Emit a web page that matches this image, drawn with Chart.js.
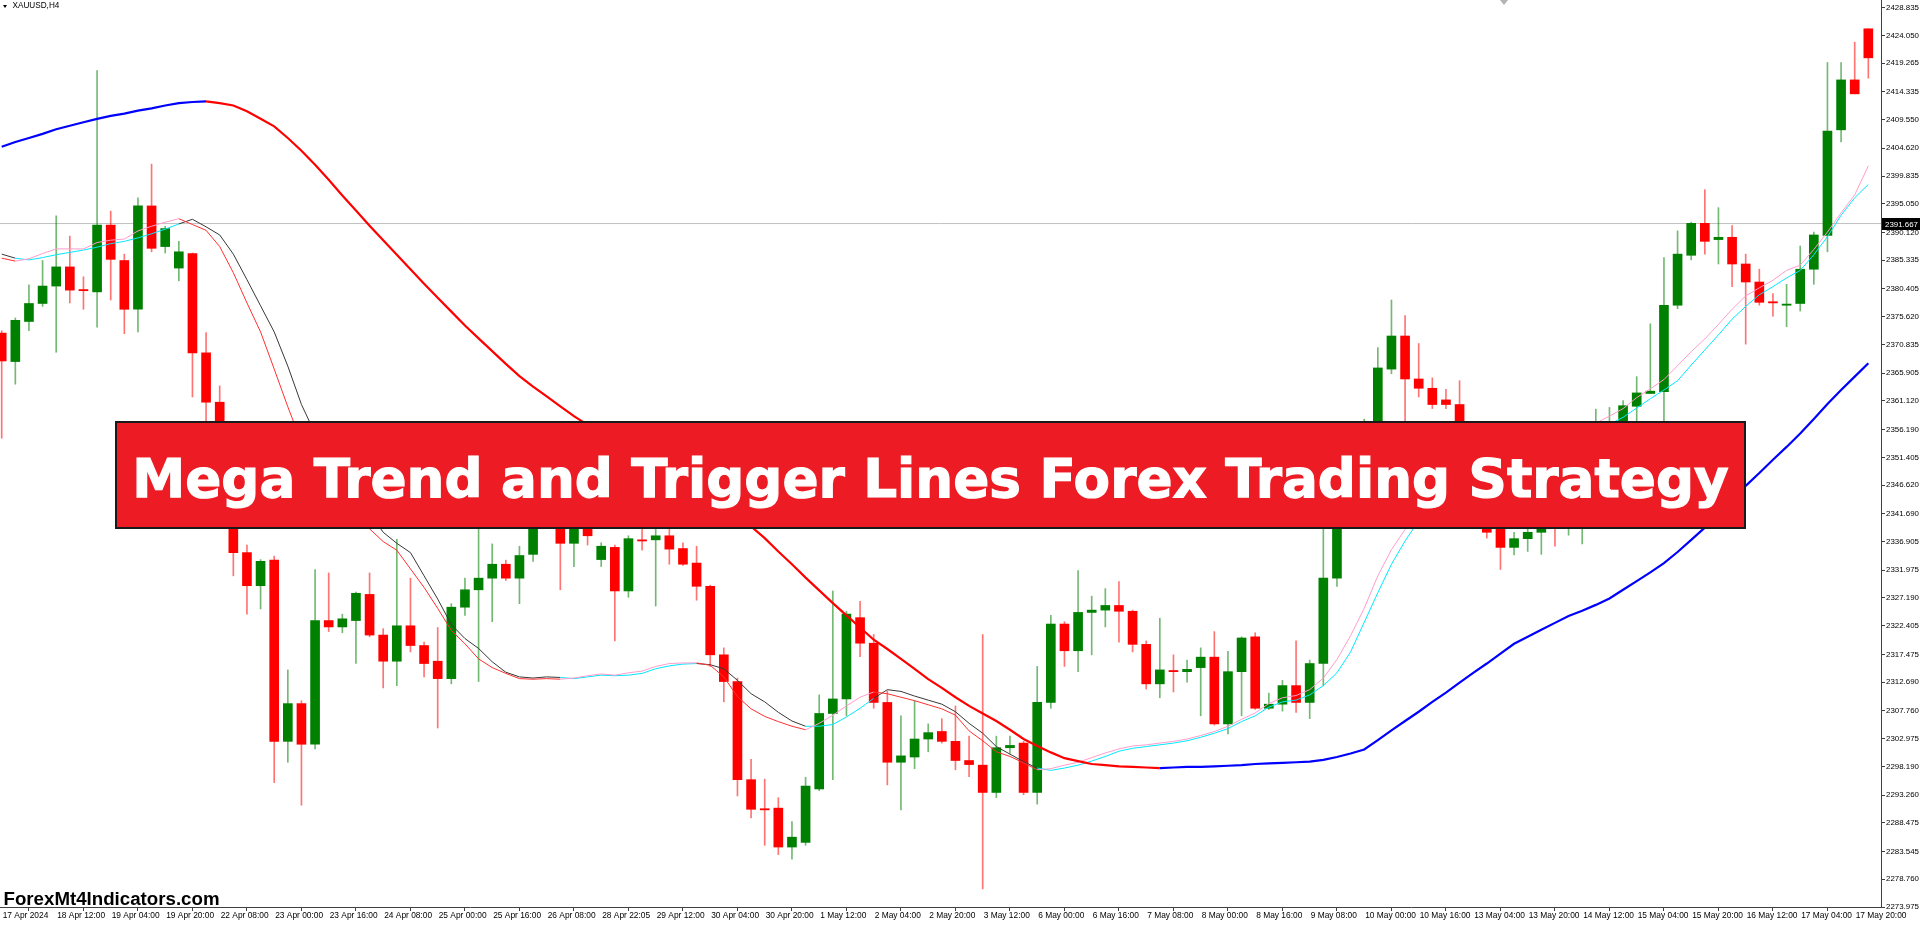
<!DOCTYPE html>
<html>
<head>
<meta charset="utf-8">
<title>XAUUSD H4</title>
<script src="https://cdn.jsdelivr.net/npm/chart.js@4.4.1/dist/chart.umd.min.js"></script>
<style>
    html, body { margin: 0; padding: 0; background: #fff; }
    #marco { position: relative; width: 1920px; height: 925px; overflow: hidden; }
    #grafico { position: absolute; left: 0; top: 0; }
    .simbolo { position: absolute; left: 12.5px; top: 2px; font: 8.2px/8.2px "Liberation Sans", sans-serif; color: #000; }
    .flecha { position: absolute; left: 3px; top: 5px; width: 0; height: 0;
        border-left: 2.5px solid transparent; border-right: 2.5px solid transparent; border-top: 3px solid #000; }
    .marca-gris { position: absolute; left: 1500px; top: 0; width: 0; height: 0;
        border-left: 4px solid transparent; border-right: 4px solid transparent; border-top: 5px solid #b4b4b4; }
    .banner { position: absolute; left: 115px; top: 421px; width: 1631px; height: 108px; box-sizing: border-box;
        background: #ed1c24; border: 2px solid #1a1a1a; }
    .banner div { position: absolute; left: 0; right: 0; top: 30px; text-align: center; color: #fff;
        font: bold 53.2px/53.2px "DejaVu Sans", sans-serif; white-space: nowrap;
        -webkit-text-stroke: 1.2px #fff; }
    .sitio { position: absolute; left: 3.5px; top: 890px; color: #000;
        font: bold 18.7px/18.7px "Liberation Sans", sans-serif; }
</style>
</head>
<body>
<div id="marco">
    <canvas id="grafico" width="1920" height="925"></canvas>
    <div class="flecha"></div>
    <div class="simbolo">XAUUSD,H4</div>
    <div class="marca-gris"></div>
    <div class="banner"><div>Mega Trend and Trigger Lines Forex Trading Strategy</div></div>
    <div class="sitio">ForexMt4Indicators.com</div>
</div>
<script>
// velas H4 de XAUUSD (una por barra)
var apertura = [
    2372.8, 2367.9, 2374.8, 2377.9, 2380.9, 2384.2, 2380.3, 2379.9, 2391.4, 2385.3,
    2376.9, 2394.7, 2387.7, 2384.0, 2386.5, 2369.4, 2360.9, 2352.0, 2335.0, 2329.3,
    2333.7, 2302.5, 2309.0, 2302.0, 2323.3, 2322.2, 2323.3, 2327.8, 2320.8, 2316.3,
    2322.4, 2319.0, 2316.3, 2313.3, 2325.6, 2328.6, 2330.6, 2333.0, 2330.6, 2334.7,
    2341.0, 2345.0, 2336.6, 2341.0, 2333.8, 2335.9, 2328.4, 2337.2, 2337.2, 2337.9,
    2335.7, 2333.2, 2329.2, 2317.4, 2312.8, 2295.9, 2290.9, 2291.0, 2284.3, 2285.1,
    2294.3, 2307.3, 2309.8, 2323.8, 2319.4, 2309.2, 2298.9, 2299.8, 2302.9, 2304.2,
    2302.5, 2299.2, 2298.4, 2293.7, 2301.4, 2302.2, 2293.7, 2309.2, 2322.7, 2318.1,
    2324.7, 2325.1, 2325.9, 2324.9, 2319.2, 2312.4, 2314.7, 2314.5, 2315.2, 2317.0,
    2305.5, 2314.5, 2320.5, 2308.2, 2308.9, 2312.1, 2309.2, 2315.9, 2330.6, 2345.0,
    2350.0, 2356.0, 2366.6, 2372.3, 2364.9, 2363.3, 2361.3, 2360.5, 2352.0, 2346.0,
    2341.0, 2335.9, 2337.4, 2338.5, 2341.0, 2339.5, 2342.0, 2347.0, 2354.0, 2357.0,
    2360.2, 2362.4, 2362.7, 2377.6, 2386.2, 2391.7, 2388.9, 2389.3, 2384.7, 2381.6,
    2378.2, 2377.6, 2377.9, 2383.8, 2389.6, 2407.8, 2416.4, 2425.2
];
var maximo = [
    2373.2, 2375.4, 2381.1, 2385.3, 2393.0, 2389.5, 2382.5, 2418.0, 2393.8, 2386.4,
    2396.1, 2401.9, 2391.2, 2388.6, 2386.6, 2372.9, 2363.7, 2354.0, 2336.3, 2333.8,
    2334.4, 2314.8, 2309.5, 2332.1, 2331.5, 2324.4, 2328.2, 2331.5, 2321.9, 2337.3,
    2330.6, 2319.6, 2322.1, 2326.2, 2330.6, 2345.0, 2336.5, 2333.7, 2336.1, 2343.0,
    2348.0, 2347.0, 2345.0, 2343.0, 2336.7, 2336.3, 2337.9, 2339.1, 2340.0, 2340.0,
    2336.7, 2336.1, 2329.4, 2318.6, 2313.4, 2299.4, 2296.0, 2292.8, 2288.7, 2296.3,
    2310.5, 2328.4, 2324.9, 2326.6, 2320.9, 2311.2, 2306.9, 2309.5, 2305.5, 2306.4,
    2308.6, 2303.4, 2320.9, 2303.4, 2303.4, 2302.5, 2315.4, 2324.2, 2323.1, 2331.9,
    2327.5, 2328.8, 2330.0, 2325.1, 2319.8, 2323.7, 2317.4, 2316.5, 2318.6, 2321.4,
    2318.0, 2320.5, 2321.2, 2310.8, 2313.0, 2319.8, 2316.5, 2342.0, 2347.0, 2352.0,
    2358.0, 2370.3, 2378.5, 2375.8, 2371.0, 2365.1, 2363.1, 2364.6, 2353.0, 2347.0,
    2342.0, 2338.5, 2339.1, 2342.0, 2343.0, 2344.0, 2349.0, 2359.7, 2360.0, 2361.2,
    2365.3, 2374.4, 2385.8, 2390.4, 2391.9, 2397.5, 2394.4, 2391.3, 2386.4, 2383.8,
    2379.6, 2381.2, 2387.8, 2390.2, 2419.4, 2419.4, 2422.9, 2425.2
];
var minimo = [
    2354.7, 2364.0, 2373.2, 2377.4, 2369.5, 2378.0, 2376.9, 2373.8, 2378.5, 2372.7,
    2373.0, 2386.8, 2386.6, 2381.8, 2361.8, 2356.0, 2349.0, 2331.0, 2324.4, 2325.3,
    2295.4, 2298.9, 2291.5, 2301.2, 2321.4, 2321.2, 2315.9, 2320.5, 2311.7, 2312.1,
    2317.9, 2313.6, 2304.8, 2312.4, 2324.2, 2312.8, 2323.1, 2330.2, 2326.2, 2333.5,
    2339.5, 2328.6, 2332.6, 2336.3, 2332.6, 2319.8, 2327.3, 2335.4, 2325.8, 2333.0,
    2332.8, 2326.8, 2315.4, 2309.3, 2293.1, 2289.3, 2284.6, 2283.0, 2282.2, 2284.6,
    2294.0, 2295.9, 2306.9, 2317.1, 2308.2, 2295.0, 2290.7, 2297.8, 2300.7, 2302.2,
    2297.6, 2296.4, 2277.1, 2292.8, 2300.4, 2293.3, 2291.7, 2308.2, 2315.4, 2314.5,
    2317.4, 2322.2, 2319.6, 2317.9, 2311.5, 2310.0, 2311.0, 2312.7, 2306.9, 2305.3,
    2303.8, 2306.9, 2308.0, 2308.0, 2307.7, 2307.5, 2306.4, 2312.1, 2329.2, 2343.0,
    2348.0, 2354.0, 2365.8, 2356.0, 2361.8, 2359.8, 2359.8, 2350.0, 2344.0, 2337.5,
    2332.1, 2334.6, 2335.2, 2334.7, 2336.1, 2338.0, 2336.5, 2345.0, 2352.0, 2355.0,
    2357.6, 2362.4, 2356.0, 2377.0, 2385.4, 2386.4, 2384.7, 2380.8, 2370.9, 2377.6,
    2375.7, 2373.9, 2376.6, 2381.2, 2386.8, 2405.7, 2414.0, 2416.7
];
var cierre = [
    2368.0, 2375.0, 2377.9, 2380.9, 2384.2, 2380.2, 2380.1, 2391.4, 2385.5, 2376.9,
    2394.7, 2387.4, 2390.8, 2386.8, 2369.4, 2360.9, 2352.0, 2335.0, 2329.3, 2333.5,
    2302.5, 2309.0, 2302.0, 2323.3, 2322.2, 2323.6, 2328.0, 2320.8, 2316.3, 2322.4,
    2319.0, 2315.9, 2313.3, 2325.6, 2328.6, 2330.6, 2333.0, 2330.6, 2334.5, 2341.0,
    2346.0, 2336.6, 2343.0, 2337.9, 2336.1, 2328.4, 2337.4, 2337.0, 2337.9, 2335.6,
    2333.0, 2329.2, 2317.4, 2312.8, 2295.9, 2290.8, 2290.7, 2284.3, 2286.0, 2294.8,
    2307.3, 2309.8, 2324.4, 2319.4, 2309.2, 2298.9, 2300.0, 2302.9, 2304.0, 2302.5,
    2299.2, 2298.5, 2293.7, 2301.4, 2301.8, 2293.7, 2309.2, 2322.7, 2318.1, 2324.7,
    2325.1, 2325.9, 2324.9, 2319.2, 2312.4, 2314.8, 2314.5, 2314.9, 2317.0, 2305.5,
    2314.5, 2320.3, 2308.2, 2308.9, 2312.1, 2309.2, 2315.9, 2330.6, 2345.0, 2350.0,
    2356.0, 2366.8, 2372.3, 2364.9, 2363.3, 2360.5, 2360.5, 2352.0, 2346.0, 2338.5,
    2335.9, 2337.4, 2338.5, 2340.0, 2339.5, 2342.0, 2347.0, 2354.0, 2357.0, 2360.3,
    2362.5, 2362.8, 2377.6, 2386.4, 2391.7, 2388.6, 2389.3, 2384.7, 2381.6, 2378.1,
    2378.0, 2377.8, 2383.8, 2389.7, 2407.6, 2416.4, 2414.0, 2420.2
];

// linea Mega Trend (gruesa, azul al subir y roja al bajar)
var megaTrend = [
    2404.9, 2405.7, 2406.4, 2407.1, 2407.9, 2408.5, 2409.1, 2409.7, 2410.2, 2410.6,
    2411.1, 2411.5, 2412.0, 2412.4, 2412.6, 2412.7, 2412.4, 2412.0, 2411.0, 2409.7,
    2408.4, 2406.4, 2404.2, 2401.8, 2399.2, 2396.5, 2393.9, 2391.3, 2388.8, 2386.3,
    2383.8, 2381.3, 2378.9, 2376.5, 2374.1, 2371.9, 2369.7, 2367.5, 2365.4, 2363.6,
    2361.9, 2360.2, 2358.5, 2357.0, 2355.5, 2354.1, 2352.6, 2351.1, 2349.7, 2348.2,
    2346.7, 2345.3, 2343.8, 2342.4, 2340.9, 2339.5, 2337.5, 2335.2, 2333.0, 2330.7,
    2328.5, 2326.3, 2324.2, 2322.1, 2320.0, 2318.4, 2316.7, 2315.0, 2313.2, 2311.7,
    2310.1, 2308.6, 2307.3, 2306.0, 2304.5, 2302.9, 2301.7, 2300.6, 2299.6, 2299.1,
    2298.6, 2298.4, 2298.2, 2298.1, 2298.0, 2297.9, 2298.0, 2298.1, 2298.1, 2298.2,
    2298.3, 2298.4, 2298.6, 2298.7, 2298.8, 2298.9, 2299.0, 2299.3, 2299.8, 2300.4,
    2301.1, 2302.7, 2304.4, 2306.0, 2307.6, 2309.3, 2310.9, 2312.6, 2314.3, 2315.9,
    2317.6, 2319.3, 2320.5, 2321.7, 2322.9, 2324.1, 2325.0, 2326.0, 2327.1, 2328.6,
    2330.1, 2331.6, 2333.2, 2335.1, 2337.2, 2339.3, 2341.7, 2344.1, 2346.5, 2348.7,
    2351.0, 2353.2, 2355.5, 2358.0, 2360.6, 2363.0, 2365.3, 2367.6
];

// Trigger Lines: rapida (rosa / roja) y lenta (cian / negra)
var lineaRapida = [
    2385.7, 2385.2, 2385.6, 2386.5, 2387.3, 2387.3, 2387.3, 2388.4, 2388.8, 2389.0,
    2390.4, 2391.2, 2391.9, 2392.5, 2391.5, 2390.5, 2387.7, 2383.2, 2378.0, 2373.0,
    2366.6, 2360.1, 2354.0, 2349.5, 2346.0, 2343.0, 2340.8, 2339.1, 2336.9, 2335.4,
    2332.2, 2329.0, 2325.4, 2321.6, 2319.3, 2316.7, 2315.2, 2314.2, 2313.3, 2313.2,
    2313.3, 2313.2, 2313.4, 2313.8, 2314.1, 2313.9, 2314.3, 2314.6, 2315.4, 2315.9,
    2316.0, 2316.0, 2315.6, 2313.6, 2310.2, 2308.1, 2306.8, 2305.9, 2305.1, 2304.5,
    2305.6, 2307.0, 2308.6, 2310.1, 2311.0, 2310.7, 2310.1, 2309.5, 2308.8, 2308.1,
    2307.0, 2304.3, 2302.6, 2300.7, 2299.9, 2298.8, 2297.6, 2297.8, 2298.4, 2298.9,
    2299.7, 2300.5, 2301.2, 2301.7, 2301.9, 2302.2, 2302.5, 2302.9, 2303.5, 2304.2,
    2305.1, 2306.3, 2307.4, 2309.0, 2310.0, 2310.4, 2311.4, 2313.4, 2316.6, 2320.7,
    2325.4, 2331.0, 2335.5, 2339.0, 2342.0, 2344.5, 2346.5, 2348.0, 2348.5, 2348.0,
    2347.5, 2347.5, 2348.0, 2349.0, 2350.5, 2352.5, 2355.0, 2357.3, 2358.5, 2359.8,
    2361.7, 2363.2, 2364.8, 2367.2, 2369.6, 2371.8, 2374.3, 2376.9, 2379.2, 2380.6,
    2381.9, 2383.6, 2384.5, 2387.2, 2390.2, 2393.5, 2396.6, 2401.6
];
var lineaLenta = [
    2386.4, 2385.7, 2385.4, 2385.8, 2386.3, 2386.7, 2387.1, 2387.6, 2388.2, 2388.6,
    2389.2, 2389.9, 2390.7, 2391.6, 2392.4, 2391.1, 2389.7, 2386.4, 2382.0, 2377.5,
    2373.0, 2367.1, 2360.5, 2355.5, 2351.5, 2348.0, 2344.8, 2341.8, 2338.5, 2336.6,
    2335.0, 2331.0, 2327.0, 2322.6, 2320.2, 2318.5, 2316.2, 2314.4, 2313.6, 2313.4,
    2313.6, 2313.5, 2313.3, 2313.6, 2313.9, 2313.8, 2313.9, 2314.2, 2315.0, 2315.5,
    2315.8, 2315.9, 2315.7, 2315.0, 2313.0, 2310.7, 2309.3, 2307.5, 2306.0, 2305.1,
    2305.1, 2305.4, 2306.7, 2308.2, 2309.9, 2311.4, 2311.1, 2310.3, 2309.6, 2308.9,
    2307.6, 2305.6, 2303.9, 2301.6, 2300.3, 2299.0, 2297.9, 2297.5, 2297.9, 2298.4,
    2299.1, 2299.9, 2300.8, 2301.3, 2301.6, 2301.9, 2302.2, 2302.6, 2303.2, 2303.9,
    2304.7, 2305.9, 2306.9, 2308.4, 2309.3, 2309.6, 2310.5, 2312.1, 2314.3, 2317.9,
    2323.0, 2328.1, 2333.0, 2337.0, 2340.5, 2343.0, 2345.0, 2346.5, 2347.3, 2347.3,
    2347.0, 2347.0, 2347.3, 2348.3, 2349.6, 2351.5, 2354.0, 2356.0, 2357.1, 2358.3,
    2359.9, 2361.5, 2363.0, 2364.6, 2367.3, 2369.9, 2372.5, 2375.2, 2377.4, 2379.4,
    2380.8, 2382.3, 2383.6, 2386.3, 2389.4, 2393.1, 2396.1, 2398.4
];

var precioActual = 2391.667;

// etiquetas del eje de tiempo, una cada 4 barras
var barrasEtiqueta = [0, 4, 8, 12, 16, 20, 24, 28, 32, 36, 40, 44, 48, 52, 56, 60, 64, 68,
    72, 76, 80, 84, 88, 92, 96, 100, 104, 108, 112, 116, 120, 124, 128, 132, 136];
var etiquetasX = ['17 Apr 2024', '18 Apr 12:00', '19 Apr 04:00', '19 Apr 20:00', '22 Apr 08:00',
    '23 Apr 00:00', '23 Apr 16:00', '24 Apr 08:00', '25 Apr 00:00', '25 Apr 16:00', '26 Apr 08:00',
    '28 Apr 22:05', '29 Apr 12:00', '30 Apr 04:00', '30 Apr 20:00', '1 May 12:00', '2 May 04:00',
    '2 May 20:00', '3 May 12:00', '6 May 00:00', '6 May 16:00', '7 May 08:00', '8 May 00:00',
    '8 May 16:00', '9 May 08:00', '10 May 00:00', '10 May 16:00', '13 May 04:00', '13 May 20:00',
    '14 May 12:00', '15 May 04:00', '15 May 20:00', '16 May 12:00', '17 May 04:00', '17 May 20:00'];

var ticksY = [2428.835, 2424.050, 2419.265, 2414.335, 2409.550, 2404.620, 2399.835, 2395.050,
    2390.120, 2385.335, 2380.405, 2375.620, 2370.835, 2365.905, 2361.120, 2356.190, 2351.405,
    2346.620, 2341.690, 2336.905, 2331.975, 2327.190, 2322.405, 2317.475, 2312.690, 2307.760,
    2302.975, 2298.190, 2293.260, 2288.475, 2283.545, 2278.760, 2273.975];

var verde = '#008000', rojo = '#ff0000';
var colorCuerpo = cierre.map(function (c, i) { return c >= apertura[i] ? verde : rojo; });
var colorMecha = cierre.map(function (c, i) {
    return c >= apertura[i] ? 'rgba(0,128,0,0.55)' : 'rgba(255,0,0,0.55)';
});

var mechas = maximo.map(function (h, i) { return { x: i, y: [minimo[i], h] }; });
var cuerpos = apertura.map(function (o, i) { return { x: i, y: [o, cierre[i]] }; });
var puntos = function (serie) { return serie.map(function (v, i) { return { x: i, y: v }; }); };

function subeTrigger(i) { return lineaRapida[i] > lineaLenta[i]; }

// sin margenes extra para las etiquetas de los extremos
function sinRelleno(s) {
    s.paddingTop = 0;
    s.paddingBottom = 0;
    s.paddingLeft = 0;
    s.paddingRight = 0;
}

var cajaPrecio = {
    id: 'cajaPrecio',
    afterDraw: function (chart) {
        var ctx = chart.ctx;
        var y = chart.scales.y.getPixelForValue(precioActual);
        var x = chart.chartArea.right + 1;
        ctx.save();
        ctx.fillStyle = '#000';
        ctx.fillRect(x, Math.round(y) - 6, 1920 - x, 12);
        ctx.fillStyle = '#fff';
        ctx.font = '7.9px "Liberation Sans"';
        ctx.textBaseline = 'middle';
        ctx.fillText(precioActual.toFixed(3), x + 3, Math.round(y) + 0.5);
        ctx.restore();
    }
};

var ctx = document.getElementById('grafico').getContext('2d');
var myChart = new Chart(ctx, {
    type: 'bar',
    data: {
        datasets: [{
            type: 'line',
            data: [{ x: -1, y: precioActual }, { x: 140, y: precioActual }],
            borderColor: '#c0c0c0',
            borderWidth: 1,
            pointRadius: 0,
            order: 5
        }, {
            data: mechas,
            backgroundColor: colorMecha,
            barThickness: 1,
            grouped: false,
            borderWidth: 0,
            borderSkipped: false,
            order: 4
        }, {
            data: cuerpos,
            backgroundColor: colorCuerpo,
            barThickness: 9,
            grouped: false,
            borderWidth: 0,
            borderSkipped: false,
            order: 3
        }, {
            type: 'line',
            data: puntos(lineaLenta),
            borderWidth: 1,
            pointRadius: 0,
            segment: {
                borderColor: function (c) { return subeTrigger(c.p1DataIndex) ? '#00e8ff' : '#383838'; }
            },
            order: 2
        }, {
            type: 'line',
            data: puntos(lineaRapida),
            borderWidth: 1,
            pointRadius: 0,
            segment: {
                borderColor: function (c) { return subeTrigger(c.p1DataIndex) ? '#ff9ccc' : '#ff3030'; }
            },
            order: 1
        }, {
            type: 'line',
            data: puntos(megaTrend),
            borderWidth: 2.2,
            pointRadius: 0,
            segment: {
                borderColor: function (c) { return c.p1.parsed.y >= c.p0.parsed.y ? '#0000ff' : '#ff0000'; }
            },
            order: 0
        }]
    },
    options: {
        responsive: false,
        devicePixelRatio: 1,
        animation: false,
        events: [],
        layout: { padding: 0 },
        plugins: { legend: { display: false }, tooltip: { enabled: false } },
        scales: {
            x: {
                type: 'linear',
                position: 'bottom',
                min: -0.125,
                max: 137.93,
                offset: false,
                afterBuildTicks: function (s) {
                    s.ticks = barrasEtiqueta.map(function (v) { return { value: v }; });
                },
                afterFit: function (s) { s.height = 18; sinRelleno(s); },
                grid: { drawOnChartArea: false, drawTicks: true, tickLength: 4, color: '#404040' },
                border: { display: true, color: '#404040' },
                ticks: {
                    autoSkip: false,
                    maxRotation: 0,
                    minRotation: 0,
                    align: 'start',
                    labelOffset: 1,
                    padding: 0,
                    color: '#000',
                    font: { family: 'Liberation Sans', size: 8.4 },
                    callback: function (v, i) { return etiquetasX[i]; }
                }
            },
            y: {
                type: 'linear',
                position: 'right',
                min: 2273.975,
                max: 2430.16,
                afterBuildTicks: function (s) {
                    s.ticks = ticksY.map(function (v) { return { value: v }; });
                },
                afterFit: function (s) { s.width = 39; sinRelleno(s); },
                grid: { drawOnChartArea: false, drawTicks: true, tickLength: 4, color: '#404040' },
                border: { display: true, color: '#404040' },
                ticks: {
                    autoSkip: false,
                    padding: 1,
                    color: '#000',
                    font: { family: 'Liberation Sans', size: 7.9 },
                    callback: function (v) { return v.toFixed(3); }
                }
            }
        }
    },
    plugins: [cajaPrecio]
});
</script>
</body>
</html>
